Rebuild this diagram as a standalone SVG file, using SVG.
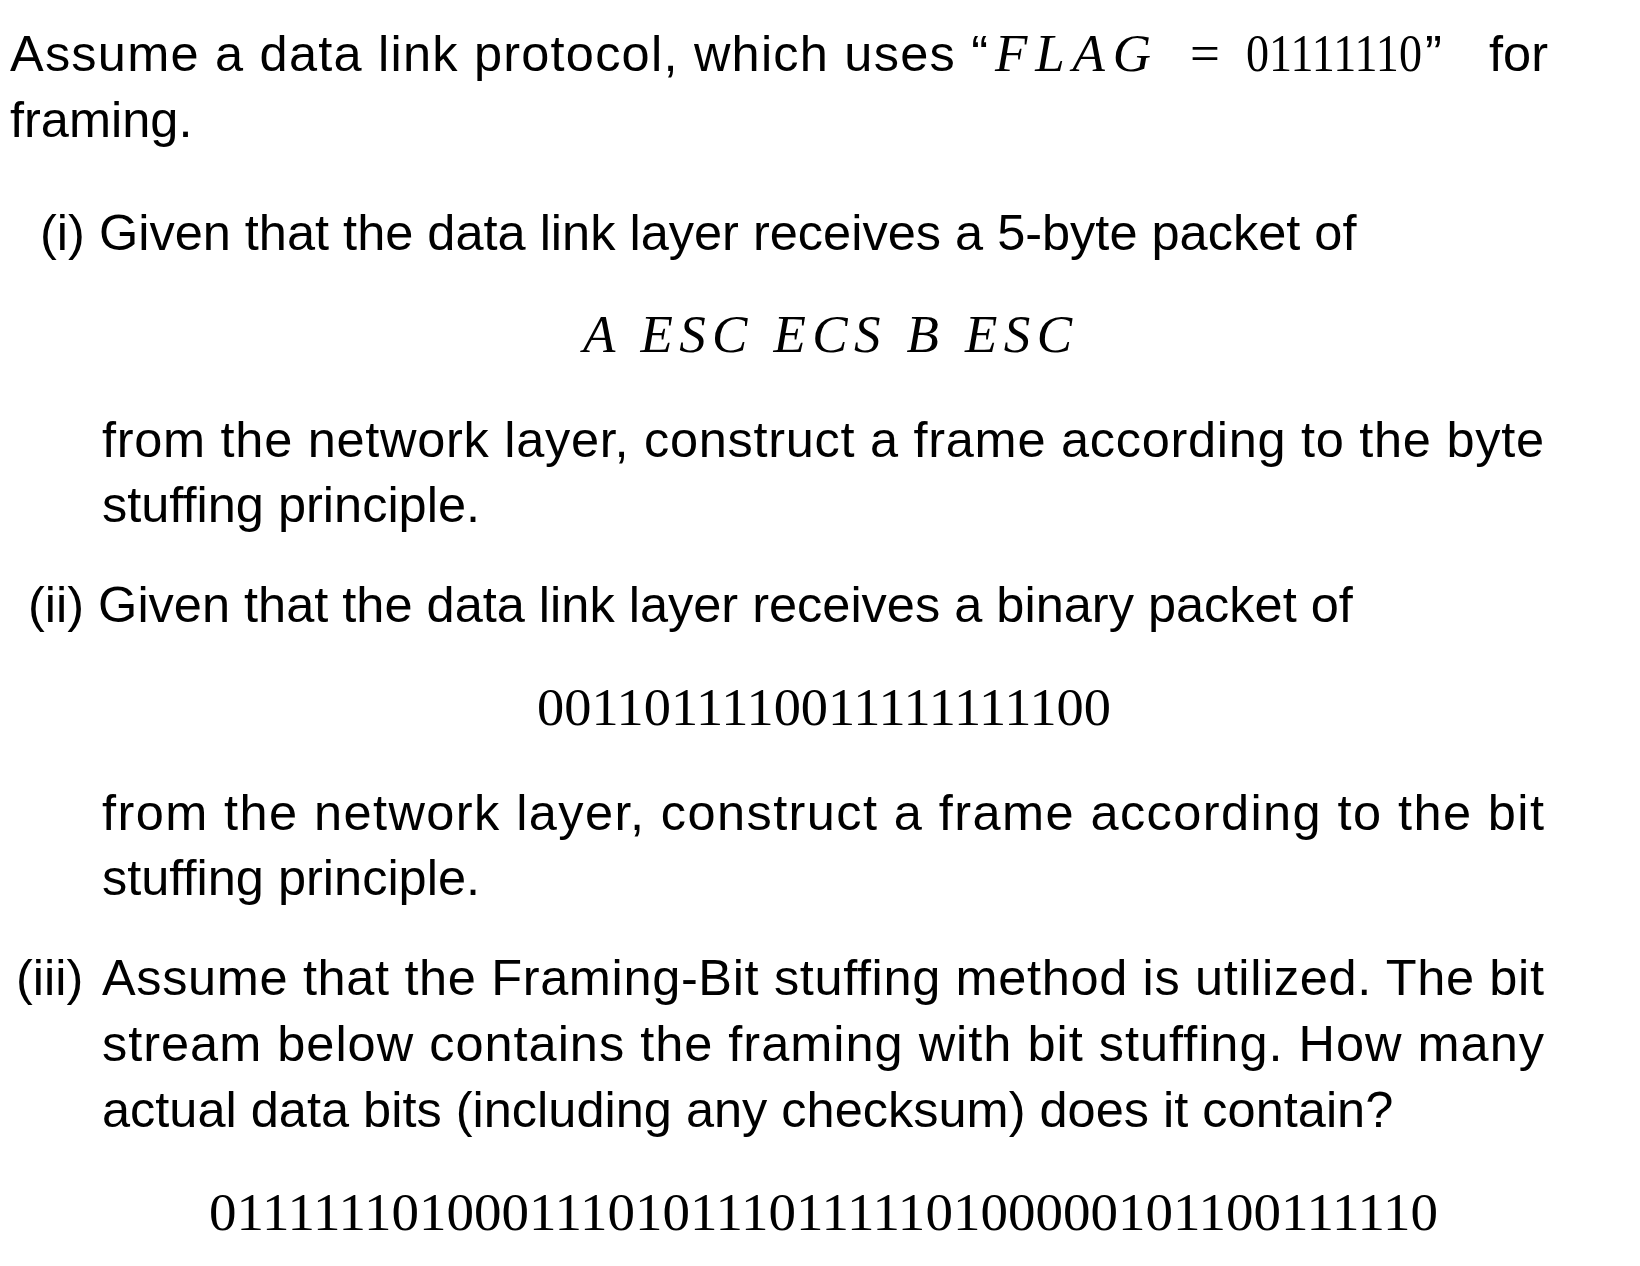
<svg xmlns="http://www.w3.org/2000/svg" width="1640" height="1266" viewBox="0 0 1640 1266">
<style>
.s{font-family:"Liberation Sans",Arial,sans-serif;font-size:50.5px;fill:#000}
.m{font-family:"Liberation Serif","Times New Roman",serif;font-size:53px;fill:#000}
.i{font-style:italic}
</style>
<rect width="1640" height="1266" fill="#fff"/>
<g id="intro">
<text class="s" x="10" y="71" textLength="978" lengthAdjust="spacing">Assume a data link protocol, which uses “</text>
<text class="m i" x="995" y="71" textLength="156" lengthAdjust="spacing">FLAG</text>
<text class="m" x="1190" y="71">=</text>
<text class="m" x="1246" y="71" textLength="176" lengthAdjust="spacingAndGlyphs">01111110</text>
<text class="s" x="1425" y="71">”</text>
<text class="s" x="1548" y="71" text-anchor="end">for</text>
<text class="s" x="10" y="137">framing.</text>
</g>
<g id="part-i">
<text class="s" x="40" y="250">(i) Given that the data link layer receives a 5-byte packet of</text>
<text class="m i" x="583" y="352" textLength="489" lengthAdjust="spacing">A ESC ECS B ESC</text>
<text class="s" x="102" y="457" textLength="1442" lengthAdjust="spacing">from the network layer, construct a frame according to the byte</text>
<text class="s" x="102" y="522">stuffing principle.</text>
</g>
<g id="part-ii">
<text class="s" x="28" y="622">(ii) Given that the data link layer receives a binary packet of</text>
<text class="m" x="537" y="725" textLength="574" lengthAdjust="spacingAndGlyphs">0011011110011111111100</text>
<text class="s" x="102" y="830" textLength="1442" lengthAdjust="spacing">from the network layer, construct a frame according to the bit</text>
<text class="s" x="102" y="895">stuffing principle.</text>
</g>
<g id="part-iii">
<text class="s" x="16" y="995">(iii)</text>
<text class="s" x="102" y="995" textLength="1442" lengthAdjust="spacing">Assume that the Framing-Bit stuffing method is utilized.  The bit</text>
<text class="s" x="102" y="1061" textLength="1442" lengthAdjust="spacing">stream below contains the framing with bit stuffing.  How many</text>
<text class="s" x="102" y="1127">actual data bits (including any checksum) does it contain?</text>
<text class="m" x="209" y="1230" textLength="1229" lengthAdjust="spacingAndGlyphs">0111111010001110101110111110100000101100111110</text>
</g>
</svg>
